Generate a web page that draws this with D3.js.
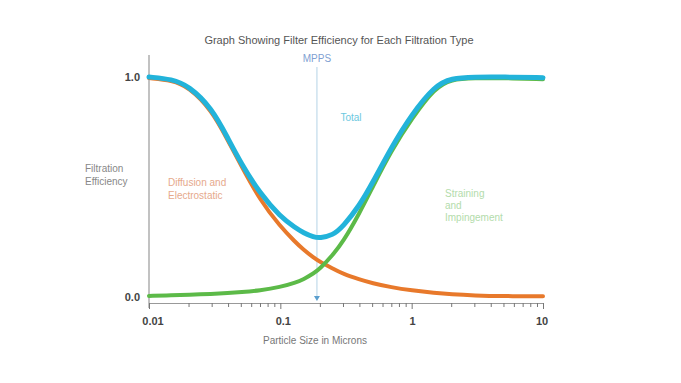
<!DOCTYPE html>
<html><head><meta charset="utf-8">
<script src="https://cdn.jsdelivr.net/npm/d3@7"></script>
<style>body{margin:0;background:#fff}svg{display:block}text{font-family:"Liberation Sans",Arial,sans-serif}</style>
</head><body><svg id="c" width="681" height="383"></svg>
<script>
const sizes = [0.01,0.015,0.02,0.03,0.04,0.05,0.07,0.1,0.13,0.15,0.18,0.2,0.25,0.3,0.4,0.5,0.7,1,1.5,2,3,5,10];
const total = [1.0,0.99,0.96,0.86,0.72,0.61,0.47,0.365,0.315,0.292,0.272,0.268,0.28,0.32,0.415,0.515,0.68,0.83,0.96,0.995,1.0,1.0,0.997];
const diffusion = [0.995,0.985,0.955,0.85,0.71,0.60,0.44,0.32,0.25,0.215,0.178,0.16,0.13,0.105,0.08,0.063,0.044,0.03,0.018,0.012,0.007,0.004,0.003];
const straining = [0.005,0.008,0.01,0.014,0.018,0.022,0.03,0.045,0.065,0.08,0.108,0.128,0.19,0.25,0.38,0.495,0.665,0.81,0.95,0.99,0.995,0.995,0.99];
const xTicks = [0.01,0.1,1,10];
const xTickLabels = ["0.01","0.1","1","10"];
const yTicks = [0,1];
const yTickLabels = ["0.0","1.0"];
const mpps = 0.19;

const svg = d3.select("#c");
const x = d3.scaleLog().domain([0.01,10]).range([149,543]);
const y = d3.scaleLinear().domain([0,1]).range([297,77]);
const axisY = 303;

// title
svg.append("text").attr("x",339).attr("y",44).attr("text-anchor","middle")
  .attr("font-size",11).attr("fill","#555").text("Graph Showing Filter Efficiency for Each Filtration Type");

// y axis line
svg.append("line").attr("x1",149).attr("x2",149).attr("y1",55).attr("y2",axisY+5)
  .attr("stroke","#999").attr("stroke-width",1.2);
// x axis
const xAxis = d3.axisBottom(x).tickValues(d3.range(-2,1).flatMap(e=>d3.range(1,10).map(m=>m*Math.pow(10,e))).concat([10]))
  .tickFormat("").tickSizeOuter(0).tickSizeInner(4);
const gx = svg.append("g").attr("transform",`translate(0,${axisY})`).call(xAxis);
gx.select(".domain").attr("stroke","#999").attr("stroke-width",1.2);
gx.selectAll(".tick line").attr("stroke","#777")
  .attr("y2",d=>xTicks.includes(d)?6:4);
svg.selectAll(".xl").data(xTicks).enter().append("text")
  .attr("x",(d,i)=>x(d)+(i==0?4:(i==1?3:(i==3?-1:1)))).attr("y",325).attr("text-anchor","middle")
  .attr("font-size",11).attr("font-weight","bold").attr("fill","#444").text((d,i)=>xTickLabels[i]);
svg.selectAll(".yl").data(yTicks).enter().append("text")
  .attr("x",140).attr("y",d=>y(d)+4).attr("text-anchor","end")
  .attr("font-size",11).attr("font-weight","bold").attr("fill","#444").text((d,i)=>yTickLabels[i]);

// axis titles
svg.append("text").attr("x",315).attr("y",344).attr("text-anchor","middle")
  .attr("font-size",10).attr("fill","#777").text("Particle Size in Microns");
const yt = svg.append("text").attr("font-size",10).attr("fill","#888");
yt.append("tspan").attr("x",85).attr("y",172).text("Filtration");
yt.append("tspan").attr("x",85).attr("y",185).text("Efficiency");

// MPPS
svg.append("line").attr("x1",x(mpps)).attr("x2",x(mpps)).attr("y1",67).attr("y2",297)
  .attr("stroke","#b5d3e6").attr("stroke-width",1);
svg.append("path").attr("d",`M${x(mpps)-3},${296}L${x(mpps)+3},${296}L${x(mpps)},${301}Z`).attr("fill","#5b9fce");
svg.append("text").attr("x",x(mpps)).attr("y",62).attr("text-anchor","middle")
  .attr("font-size",10).attr("fill","#7f9fd2").text("MPPS");

// curves
const line = d3.line().x((d,i)=>x(sizes[i])).y(d=>y(d)).curve(d3.curveBasis);
svg.append("path").attr("d",line(diffusion)).attr("fill","none").attr("stroke","#e8792b").attr("stroke-width",4).attr("stroke-linecap","round");
svg.append("path").attr("d",line(straining)).attr("fill","none").attr("stroke","#5cba48").attr("stroke-width",4).attr("stroke-linecap","round");
svg.append("path").attr("d",line(total)).attr("fill","none").attr("stroke","#22b3da").attr("stroke-width",5).attr("stroke-linecap","round");

// labels
svg.append("text").attr("x",351).attr("y",121).attr("text-anchor","middle")
  .attr("font-size",10).attr("fill","#6cc8e0").text("Total");
const dl = svg.append("text").attr("font-size",10).attr("fill","#e6a98c");
dl.append("tspan").attr("x",168).attr("y",186).text("Diffusion and");
dl.append("tspan").attr("x",168).attr("y",199).text("Electrostatic");
const sl = svg.append("text").attr("font-size",10).attr("fill","#b3dcab");
sl.append("tspan").attr("x",445).attr("y",197).text("Straining");
sl.append("tspan").attr("x",445).attr("y",209).text("and");
sl.append("tspan").attr("x",445).attr("y",221).text("Impingement");
</script></body></html>
